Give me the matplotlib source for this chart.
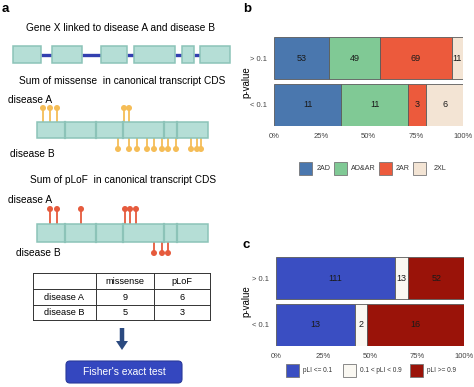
import matplotlib
matplotlib.use("Agg")
import matplotlib.pyplot as plt
from matplotlib.patches import Rectangle, Circle, FancyBboxPatch, FancyArrow
import numpy as np

plt.rcParams["font.family"] = ["Liberation Sans", "DejaVu Sans"]

# ---- panel a: schematic data (gene model in drawing units) ----
gene_exons = [(13, 41), (52, 82), (101, 127), (134, 175), (182, 194), (200, 230)]
cds_breaks = [37, 65, 96, 123, 164, 177, 208]
missense_a = [43, 50, 57, 124, 129]
missense_b = [118, 129, 137, 147, 154, 162, 168, 176, 191, 197, 201]
plof_a = [50, 57, 81, 125, 130, 136]
plof_b = [154, 162, 168]
table_cols = ["", "missense", "pLoF"]
table_rows = ["disease A", "disease B"]
table_vals = [[9, 6], [5, 3]]

# ---- panel b ----
b_groups = ["< 0.1", "> 0.1"]
b_cats = ["2AD", "AD&AR", "2AR", "2XL"]
b_counts = {"> 0.1": [53, 49, 69, 11], "< 0.1": [11, 11, 3, 6]}
b_colors = ["#4A77AE", "#80C995", "#EC5A3C", "#F3E4D4"]

# ---- panel c ----
c_groups = ["< 0.1", "> 0.1"]
c_cats = ["pLI <= 0.1", "0.1 < pLI < 0.9", "pLI >= 0.9"]
c_counts = {"> 0.1": [111, 13, 52], "< 0.1": [13, 2, 16]}
c_colors = ["#3A4EC2", "#FAF8F2", "#9A1309"]

W, H = 474, 387
fig = plt.figure(figsize=(W / 100, H / 100), dpi=100)
cv = fig.add_axes([0, 0, 1, 1])
cv.set_xlim(0, W)
cv.set_ylim(H, 0)
cv.axis("off")

EXON_FC, EXON_EC = "#B5DED6", "#8CC3B8"
MIS_C, PLOF_C = "#F5BD57", "#E65B3D"
TXT = 7.3


def bbox_ax(x0, y0, x1, y1):
    return fig.add_axes([x0 / W, 1 - y1 / H, (x1 - x0) / W, (y1 - y0) / H])


# panel a
cv.text(2, 9, "a", fontsize=9.5, fontweight="bold", va="center")
cv.text(121, 28, "Gene X linked to disease A and disease B", fontsize=TXT, ha="center", va="center")
for (s, e), (s2, _) in zip(gene_exons[:-1], gene_exons[1:]):
    cv.plot([e, s2], [54.5, 54.5], color="#3340B0", lw=2.4, solid_capstyle="butt", zorder=1)
for s, e in gene_exons:
    cv.add_patch(Rectangle((s, 46), e - s, 17, fc=EXON_FC, ec=EXON_EC, lw=1.1, zorder=2))


def cds(y0, h):
    cv.add_patch(Rectangle((cds_breaks[0], y0), cds_breaks[-1] - cds_breaks[0], h,
                           fc=EXON_FC, ec=EXON_EC, lw=1.1, zorder=2))
    for x in cds_breaks[1:-1]:
        cv.plot([x, x], [y0, y0 + h], color=EXON_EC, lw=1.6, zorder=3)


def lollipops(xs, y_base, y_head, color):
    for x in xs:
        cv.plot([x, x], [y_base, y_head], color=color, lw=1.3, zorder=1)
        cv.add_patch(Circle((x, y_head), 3.0, fc=color, ec="none", zorder=4))


cv.text(122, 81, "Sum of missense  in canonical transcript CDS", fontsize=TXT, ha="center", va="center")
cv.text(8, 100, "disease A", fontsize=TXT, va="center")
cds(122, 16)
lollipops(missense_a, 122, 108, MIS_C)
lollipops(missense_b, 138, 149, MIS_C)
cv.text(10, 154, "disease B", fontsize=TXT, va="center")

cv.text(123, 180, "Sum of pLoF  in canonical transcript CDS", fontsize=TXT, ha="center", va="center")
cv.text(8, 200, "disease A", fontsize=TXT, va="center")
cds(224, 18)
lollipops(plof_a, 224, 209, PLOF_C)
lollipops(plof_b, 242, 253, PLOF_C)
cv.text(16, 253, "disease B", fontsize=TXT, va="center")

# table
tx = [33, 96, 154, 210]
ty = [273, 289, 305, 320]
for x in tx:
    cv.plot([x, x], [ty[0], ty[-1]], color="#333", lw=0.7)
for y in ty:
    cv.plot([tx[0], tx[-1]], [y, y], color="#333", lw=0.7)
for j, lab in enumerate(table_cols):
    cv.text((tx[j] + tx[j + 1]) / 2, (ty[0] + ty[1]) / 2, lab, fontsize=6.6, ha="center", va="center")
for i, lab in enumerate(table_rows):
    yc = (ty[i + 1] + ty[i + 2]) / 2
    cv.text((tx[0] + tx[1]) / 2, yc, lab, fontsize=6.6, ha="center", va="center")
    for j, v in enumerate(table_vals[i]):
        cv.text((tx[j + 1] + tx[j + 2]) / 2, yc, str(v), fontsize=6.6, ha="center", va="center")

cv.add_patch(FancyArrow(122, 328, 0, 22, width=4.5, head_width=12, head_length=9,
                        length_includes_head=True, fc="#2B4A80", ec="none"))
cv.add_patch(FancyBboxPatch((66, 361), 116, 22, boxstyle="round,pad=0,rounding_size=4",
                            fc="#3447BF", ec="#2A3A9A", lw=0.8))
cv.text(124, 372, "Fisher's exact test", fontsize=7.4, color="white", ha="center", va="center")


def stacked(ax, groups, counts, colors):
    for yi, g in enumerate(groups):
        vals = np.array(counts[g], dtype=float)
        frac = vals / vals.sum()
        left = 0.0
        for v, f, c in zip(vals, frac, colors):
            ax.barh(yi, f, left=left, height=0.9, color=c, edgecolor="#5a5a5a", lw=0.6)
            ax.text(left + f / 2, yi, str(int(v)), ha="center", va="center", fontsize=6.5, color="#1a1a1a")
            left += f
    ax.set_xlim(0, 1)
    ax.set_ylim(-0.45, 1.45)
    ax.set_yticks(range(len(groups)))
    ax.set_yticklabels(groups)
    ax.set_xticks([0, 0.25, 0.5, 0.75, 1])
    ax.set_xticklabels(["0%", "25%", "50%", "75%", "100%"])
    ax.tick_params(length=0, labelsize=5.5, labelcolor="#444", pad=5)
    for s in ax.spines.values():
        s.set_visible(False)


axb = bbox_ax(274, 37, 463, 126)
stacked(axb, b_groups, b_counts, b_colors)
cv.text(243, 9, "b", fontsize=9.5, fontweight="bold", va="center")
cv.text(246, 82, "p-value", fontsize=7, rotation=90, ha="center", va="center")

axc = bbox_ax(276, 257, 464, 346)
stacked(axc, c_groups, c_counts, c_colors)
cv.text(243, 245, "c", fontsize=9.5, fontweight="bold", va="center")
cv.text(246, 301, "p-value", fontsize=7, rotation=90, ha="center", va="center")


def legend_row(x_patches, x_texts, y, labels, colors, fs):
    for xp, xt, lab, c in zip(x_patches, x_texts, labels, colors):
        cv.add_patch(Rectangle((xp, y - 6.5), 13, 13, fc=c, ec="#777", lw=0.6))
        cv.text(xt, y, lab, fontsize=fs, color="#333", va="center")


legend_row([299, 334, 379, 413], [317, 351, 396, 434], 168.5, b_cats, b_colors, 5.1)
legend_row([286, 343, 410], [303, 360, 427], 370.5, c_cats, c_colors, 4.7)

fig.savefig("out.png", dpi=100)
